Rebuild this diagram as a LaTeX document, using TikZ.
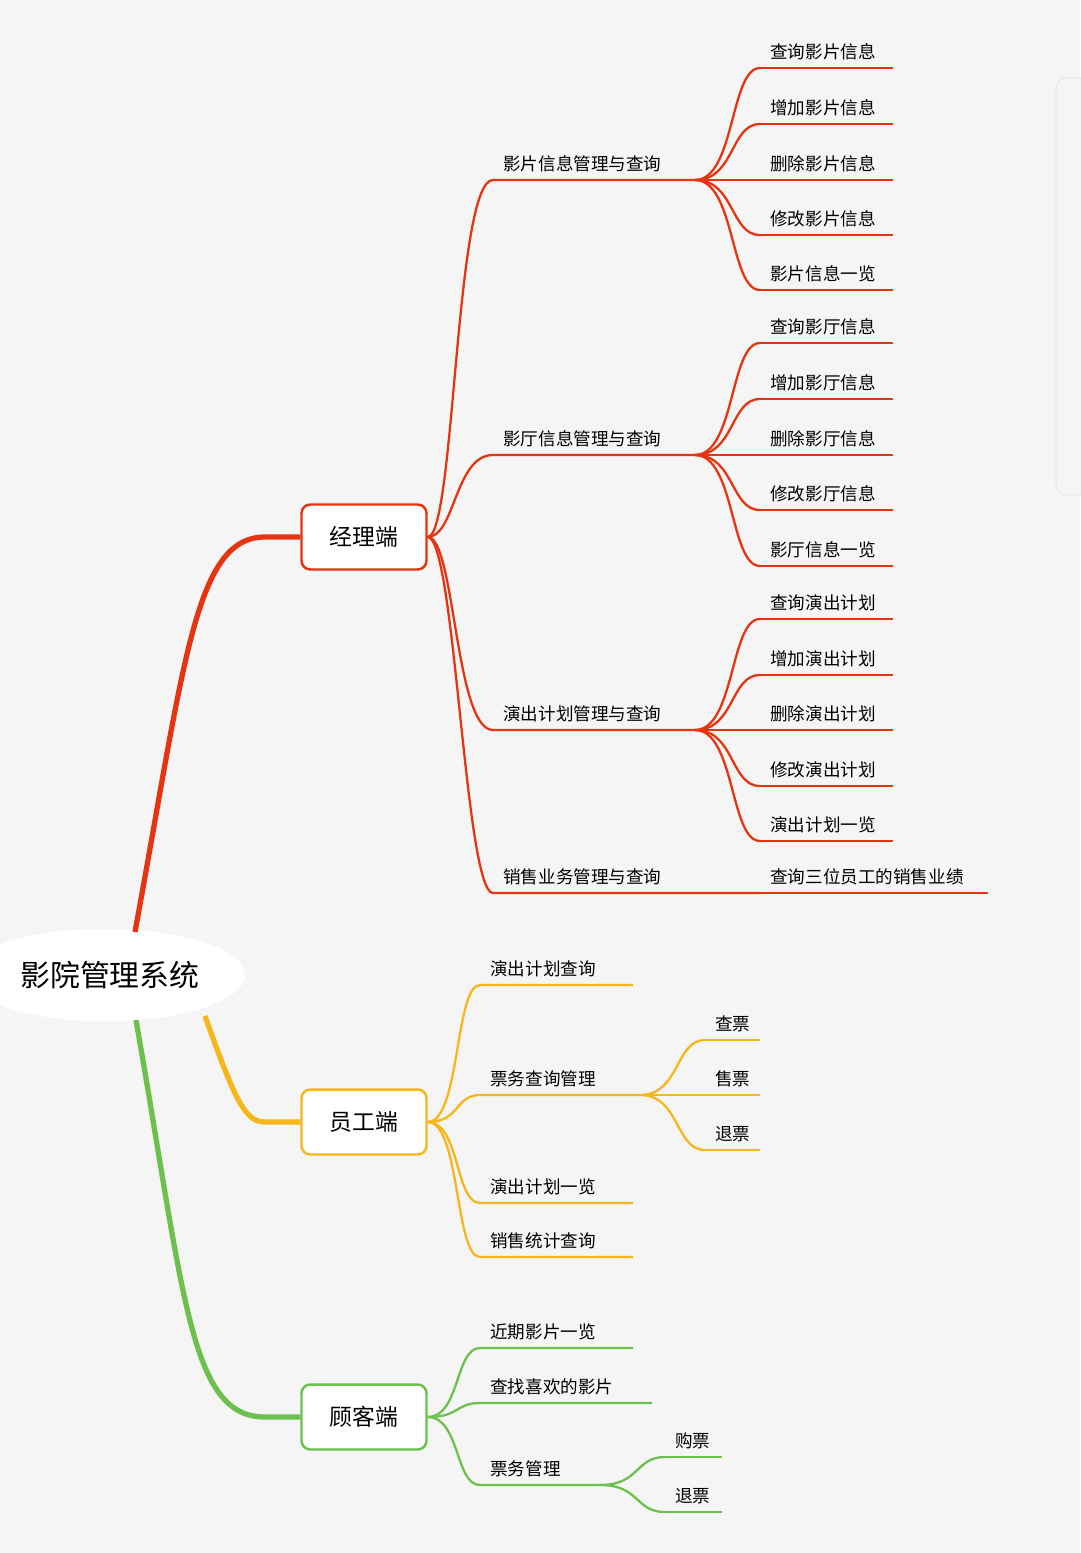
\documentclass[tikz,border=0pt]{standalone}
\usepackage{fontspec}
\setmainfont{Noto Sans CJK SC}
\usetikzlibrary{calc,shapes.geometric}
\definecolor{mgrred}{HTML}{E5340F}
\definecolor{stfyel}{HTML}{F6B61C}
\definecolor{cusgrn}{HTML}{6CC04E}
\definecolor{bgray}{HTML}{F5F5F5}

\begin{document}
\begin{tikzpicture}[
    x=0.02cm, y=-0.02cm,
    role/.style={draw, rounded corners=5pt, fill=white, line width=1.4pt, minimum width=2.5cm, minimum height=1.3cm, font=\fontsize{13}{15}\selectfont},
    txt/.style={anchor=south west, inner sep=0pt, xshift=0.2cm, yshift=0.16cm, font=\fontsize{10}{12}\selectfont},
    trunk/.style={line width=3pt},
    twig/.style={line width=1.3pt},
    leaf/.style={line width=0.8pt}
]
\useasboundingbox[fill=bgray] (0,0) rectangle (1080,1553);
\draw[black!12, fill=bgray, rounded corners=6pt] (1056,78) rectangle (1100,495);

% Root
\node[fill=white, ellipse, inner sep=0pt, minimum width=5.6cm, minimum height=1.85cm, anchor=center] (root) at (105,975) {};
\node[font=\fontsize{17}{20}\selectfont] (rootlbl) at (110,975) {影院管理系统};
\coordinate (r1) at (135,932);
\coordinate (r2) at (205,1016);
\coordinate (r3) at (136,1020);

% Roles
\node[role, draw=mgrred] (mgr) at (364,537) {经理端};
\node[role, draw=stfyel] (stf) at (364,1122) {员工端};
\node[role, draw=cusgrn] (cus) at (364,1417) {顾客端};

\draw[mgrred, trunk] (r1) .. controls (185,660) and (195,537) .. (265,537) -- (mgr.west);
\draw[stfyel, trunk] (r2) .. controls (235,1100) and (245,1122) .. (265,1122) -- (stf.west);
\draw[cusgrn, trunk] (r3) .. controls (185,1300) and (190,1417) .. (265,1417) -- (cus.west);

% Manager branches
\foreach \y/\t [count=\i] in {180/影片信息管理与查询, 455/影厅信息管理与查询, 730/演出计划管理与查询}{
    \coordinate (ma\i) at (493,\y);
    \coordinate (mb\i) at (695,\y);
    \draw[mgrred, twig] (mgr.east) .. controls (455,537) and (455,\y) .. (ma\i) -- (mb\i);
    \node[txt] (mt\i) at (ma\i) {\t};
}
\coordinate (ma4) at (493,893);
\draw[mgrred, twig] (mgr.east) .. controls (455,537) and (465,893) .. (ma4) -- (760,893);
\node[txt] (mt4) at (ma4) {销售业务管理与查询};
\coordinate (ml4) at (760,893);
\draw[mgrred, leaf] (ml4) -- ++(228,0);
\node[txt] (mlt4) at (ml4) {查询三位员工的销售业绩};

\foreach \b/\y/\t [count=\i] in {
    1/68/查询影片信息, 1/124/增加影片信息, 1/180/删除影片信息, 1/235/修改影片信息, 1/290/影片信息一览,
    2/343/查询影厅信息, 2/399/增加影厅信息, 2/455/删除影厅信息, 2/510/修改影厅信息, 2/566/影厅信息一览,
    3/619/查询演出计划, 3/675/增加演出计划, 3/730/删除演出计划, 3/786/修改演出计划, 3/841/演出计划一览}{
    \coordinate (ml\i) at (760,\y);
    \draw[mgrred, twig] (mb\b) .. controls ($(mb\b)+(40,0)$) and (730,\y) .. (ml\i);
    \draw[mgrred, leaf] (ml\i) -- ++(133,0);
    \node[txt] (mlt\i) at (ml\i) {\t};
}

% Staff branches
\foreach \y/\t/\e [count=\i] in {985/演出计划查询/633, 1095/票务查询管理/640, 1203/演出计划一览/633, 1257/销售统计查询/633}{
    \coordinate (sa\i) at (480,\y);
    \coordinate (sb\i) at (\e,\y);
    \draw[stfyel, twig] (stf.east) .. controls (460,1122) and (455,\y) .. (sa\i) -- (sb\i);
    \node[txt] (st\i) at (sa\i) {\t};
}
\foreach \y/\t [count=\i] in {1040/查票, 1095/售票, 1150/退票}{
    \coordinate (sl\i) at (705,\y);
    \draw[stfyel, twig] (sb2) .. controls (680,1095) and (675,\y) .. (sl\i);
    \draw[stfyel, leaf] (sl\i) -- ++(55,0);
    \node[txt] (slt\i) at (sl\i) {\t};
}

% Customer branches
\foreach \y/\t/\e [count=\i] in {1348/近期影片一览/633, 1403/查找喜欢的影片/652, 1485/票务管理/600}{
    \coordinate (ca\i) at (480,\y);
    \coordinate (cb\i) at (\e,\y);
    \draw[cusgrn, twig] (cus.east) .. controls (460,1417) and (455,\y) .. (ca\i) -- (cb\i);
    \node[txt] (ct\i) at (ca\i) {\t};
}
\foreach \y/\t [count=\i] in {1457/购票, 1512/退票}{
    \coordinate (cl\i) at (665,\y);
    \draw[cusgrn, twig] (cb3) .. controls (640,1485) and (635,\y) .. (cl\i);
    \draw[cusgrn, leaf] (cl\i) -- ++(57,0);
    \node[txt] (clt\i) at (cl\i) {\t};
}
\end{tikzpicture}
\end{document}
